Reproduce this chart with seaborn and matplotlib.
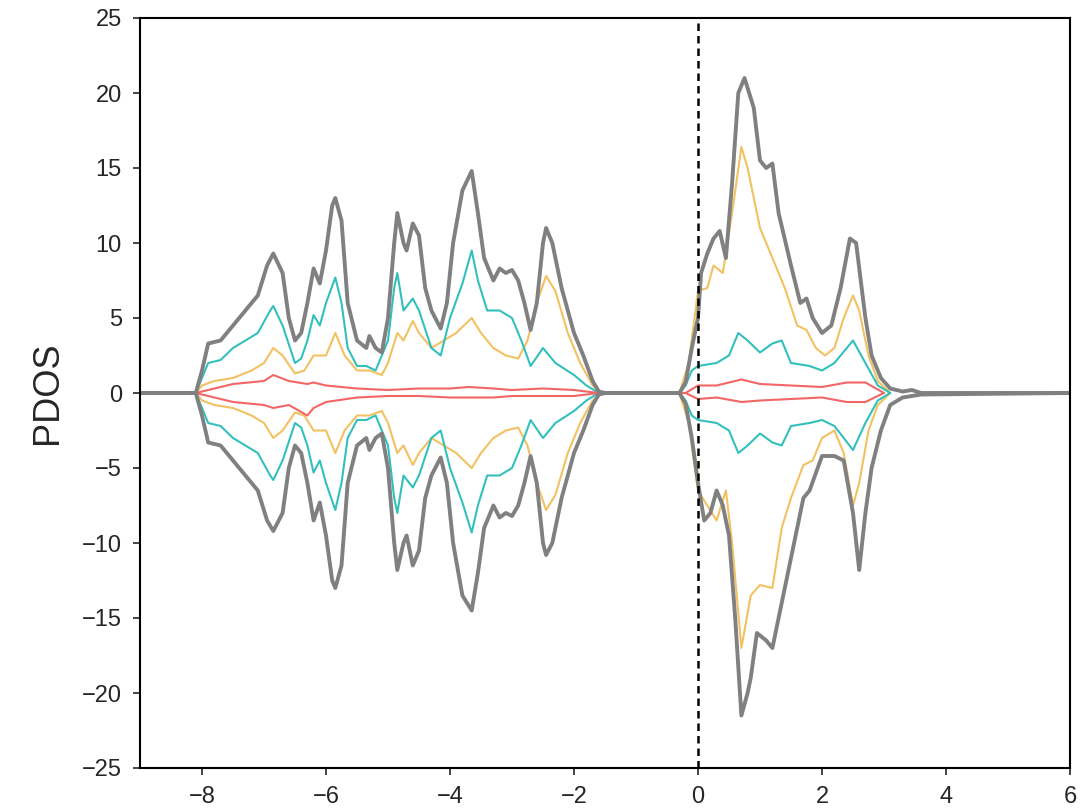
import matplotlib
matplotlib.use("Agg")
import matplotlib.pyplot as plt
import seaborn as sns
import numpy as np

sns.set_style("ticks")
plt.rcParams['font.family'] = ['Liberation Sans', 'DejaVu Sans']

# ---- data (energy, PDOS) ----
gray_up_x = [-9,-8.1,-8.0,-7.9,-7.7,-7.5,-7.3,-7.1,-6.95,-6.85,-6.7,-6.6,-6.5,-6.4,-6.3,-6.2,-6.1,-6.0,-5.9,-5.85,-5.75,-5.65,-5.5,-5.35,-5.3,-5.2,-5.1,-5.0,-4.9,-4.85,-4.75,-4.7,-4.6,-4.5,-4.4,-4.3,-4.15,-4.05,-3.95,-3.8,-3.65,-3.55,-3.45,-3.3,-3.2,-3.1,-3.0,-2.9,-2.8,-2.7,-2.6,-2.5,-2.45,-2.35,-2.2,-2.0,-1.85,-1.7,-1.6,-1.5,
             -0.3,-0.2,-0.1,0.0,0.05,0.15,0.25,0.35,0.45,0.55,0.65,0.75,0.9,1.0,1.1,1.2,1.3,1.5,1.65,1.75,1.85,2.0,2.15,2.3,2.45,2.55,2.7,2.8,2.95,3.1,3.3,3.45,3.6,6]
gray_up_y = [0,0,1.5,3.3,3.5,4.5,5.5,6.5,8.5,9.3,8,5,3.5,4,6,8.3,7.3,9.5,12.5,13,11.5,6,3.5,3.0,3.8,3,2.7,5,10,12,10,9.5,11.3,10.5,7,5.5,4.3,6,10,13.5,14.8,12,9,7.5,8.3,8.0,8.2,7.5,6,4.2,6,10,11,10,7,4,2.5,0.8,0.1,0,
             0,0.7,3,5,8,9.3,10.3,10.8,9,14,20,21,19,15.5,15,15.3,12,8.5,6,6.3,5,4,4.5,7,10.3,10,5,2.5,1,0.3,0.1,0.2,0,0]
gray_dn_x = [-9,-8.1,-8.0,-7.9,-7.7,-7.5,-7.3,-7.1,-6.95,-6.85,-6.7,-6.6,-6.5,-6.4,-6.3,-6.2,-6.1,-6.0,-5.9,-5.85,-5.75,-5.65,-5.5,-5.35,-5.3,-5.2,-5.1,-5.0,-4.9,-4.85,-4.75,-4.7,-4.6,-4.5,-4.4,-4.3,-4.15,-4.05,-3.95,-3.8,-3.65,-3.55,-3.45,-3.3,-3.2,-3.1,-3.0,-2.9,-2.8,-2.7,-2.6,-2.5,-2.45,-2.35,-2.2,-2.0,-1.85,-1.7,-1.6,-1.5,
             -0.3,-0.2,-0.1,0.0,0.1,0.2,0.3,0.4,0.5,0.6,0.7,0.8,0.85,0.95,1.1,1.2,1.3,1.5,1.7,1.8,2.0,2.2,2.35,2.5,2.6,2.7,2.8,2.95,3.1,3.3,3.6,6]
gray_dn_y = [0,0,-1.5,-3.3,-3.5,-4.5,-5.5,-6.5,-8.5,-9.2,-8,-5,-3.5,-4,-6,-8.5,-7.3,-9.5,-12.5,-13,-11.5,-6,-3.5,-3.0,-3.8,-3,-2.7,-5,-10,-11.8,-10,-9.5,-11.5,-10.5,-7,-5.5,-4.3,-6,-10,-13.5,-14.5,-12,-9,-7.5,-8.3,-8.0,-8.2,-7.5,-6,-4.2,-6,-10,-10.8,-10,-7,-4,-2.5,-0.8,-0.1,0,
             0,-0.7,-3,-6,-8.5,-8,-6.5,-7.5,-9.5,-15,-21.5,-20,-19,-16,-16.5,-17,-15,-11,-7,-6.5,-4.2,-4.2,-4.5,-8,-11.8,-8,-5,-2.5,-0.8,-0.3,-0.1,0]

cyan_up_x = [-8.1,-8.0,-7.9,-7.7,-7.5,-7.3,-7.1,-6.9,-6.85,-6.7,-6.5,-6.4,-6.3,-6.2,-6.1,-6.0,-5.85,-5.75,-5.65,-5.5,-5.35,-5.2,-5.0,-4.9,-4.85,-4.75,-4.6,-4.5,-4.3,-4.15,-4.0,-3.8,-3.65,-3.55,-3.4,-3.2,-3.0,-2.85,-2.7,-2.5,-2.3,-2.0,-1.8,-1.6,
             -0.3,-0.2,-0.1,0.0,0.3,0.5,0.65,0.8,1.0,1.2,1.35,1.5,1.8,2.0,2.2,2.5,2.7,2.9,3.1]
cyan_up_y = [0,1.0,2,2.2,3,3.5,4,5.5,5.8,4.5,2,2.3,3.5,5.2,4.5,6,7.7,6,3,1.8,1.8,1.5,3.5,7,8,5.5,6.3,5.5,3,2.5,5,7.3,9.5,7.5,5.5,5.5,5,3.5,1.8,3,2,1.2,0.5,0,
             0,0.5,1.5,1.8,2,2.5,4,3.5,2.7,3.3,3.5,2,1.8,1.5,2,3.5,2,0.5,0]
cyan_dn_x = cyan_up_x
cyan_dn_y = [0,-1.0,-2,-2.2,-3,-3.5,-4,-5.5,-5.8,-4.5,-2,-2.3,-3.5,-5.3,-4.5,-6,-7.8,-6,-3,-1.8,-1.8,-1.5,-3.5,-7,-8,-5.5,-6.3,-5.5,-3,-2.5,-5,-7.3,-9.3,-7.5,-5.5,-5.5,-5,-3.5,-1.8,-3,-2,-1.2,-0.5,0,
             0,-0.5,-1.5,-1.8,-2,-2.5,-4,-3.5,-2.7,-3.3,-3.5,-2.2,-2,-1.8,-2.2,-3.8,-2,-0.5,0]

orange_up_x = [-8.1,-8.0,-7.8,-7.5,-7.2,-7.0,-6.85,-6.7,-6.5,-6.35,-6.2,-6.0,-5.85,-5.7,-5.5,-5.3,-5.1,-5.0,-4.85,-4.75,-4.6,-4.5,-4.3,-4.1,-3.9,-3.65,-3.5,-3.3,-3.1,-2.9,-2.75,-2.6,-2.45,-2.3,-2.1,-1.9,-1.7,-1.55,
               -0.3,-0.15,0.0,0.15,0.25,0.4,0.55,0.7,0.8,1.0,1.2,1.4,1.6,1.75,1.9,2.05,2.2,2.35,2.5,2.6,2.75,2.9,3.1]
orange_up_y = [0,0.5,0.8,1,1.5,2,3,2.5,1.3,1.5,2.5,2.5,4,2.5,1.5,1.5,1.2,2,4,3.5,4.8,4,3,3.5,4,5,4,3,2.5,2.3,3.5,6,7.8,6.8,4,2,0.5,0,
               0,2,6.8,7,8.5,8,12,16.4,15,11,9,7,4.5,4.2,3,2.5,3,5,6.5,5.5,2.5,0.8,0]
orange_dn_x = [-8.1,-8.0,-7.8,-7.5,-7.2,-7.0,-6.85,-6.7,-6.5,-6.35,-6.2,-6.0,-5.85,-5.7,-5.5,-5.3,-5.1,-5.0,-4.85,-4.75,-4.6,-4.5,-4.3,-4.1,-3.9,-3.65,-3.5,-3.3,-3.1,-2.9,-2.75,-2.6,-2.45,-2.3,-2.1,-1.9,-1.7,-1.55,
               -0.3,-0.15,0.0,0.15,0.3,0.45,0.55,0.7,0.85,1.0,1.2,1.35,1.5,1.7,1.85,2.0,2.2,2.35,2.5,2.6,2.75,2.9,3.1]
orange_dn_y = [0,-0.5,-0.8,-1,-1.5,-2,-3,-2.5,-1.3,-1.5,-2.5,-2.5,-4,-2.5,-1.5,-1.5,-1.2,-2,-4,-3.5,-4.8,-4,-3,-3.5,-4,-5,-4,-3,-2.5,-2.3,-3.5,-6,-7.8,-6.8,-4,-2,-0.5,0,
               0,-2,-6.5,-7.5,-8.5,-6.5,-10,-17,-13.5,-12.8,-13,-9,-7,-4.8,-4.5,-3,-2.5,-4,-7.5,-6,-2.5,-0.8,0]

red_up_x = [-8.1,-7.8,-7.5,-7.0,-6.85,-6.6,-6.3,-6.2,-6.0,-5.5,-5.0,-4.5,-4.0,-3.7,-3.3,-3.0,-2.5,-2.0,-1.6,
            -0.2,0.0,0.3,0.7,1.0,1.5,2.0,2.4,2.7,3.0]
red_up_y = [0,0.3,0.6,0.8,1.2,0.8,0.6,0.7,0.5,0.3,0.2,0.3,0.3,0.4,0.3,0.2,0.3,0.2,0,
            0,0.5,0.5,0.9,0.6,0.5,0.4,0.7,0.7,0]
red_dn_x = red_up_x
red_dn_y = [0,-0.3,-0.6,-0.8,-1.0,-0.8,-1.5,-1.0,-0.6,-0.3,-0.2,-0.2,-0.3,-0.3,-0.3,-0.2,-0.2,-0.2,0,
            0,-0.4,-0.3,-0.6,-0.5,-0.4,-0.3,-0.6,-0.6,0]

fig = plt.figure(figsize=(10.8, 8.1), dpi=100)
ax = fig.add_axes([140/1080, 42/810, 930/1080, 750/810])

series = [
    (orange_up_x, orange_up_y, orange_dn_x, orange_dn_y, "#f2c162", 1.5),
    (cyan_up_x, cyan_up_y, cyan_dn_x, cyan_dn_y, "#33c0bd", 1.5),
    (red_up_x, red_up_y, red_dn_x, red_dn_y, "#f26666", 1.5),
    (gray_up_x, gray_up_y, gray_dn_x, gray_dn_y, "#808080", 2.8),
]
for ux, uy, dx, dy, c, lw in series:
    sns.lineplot(x=ux, y=uy, color=c, lw=lw, ax=ax, sort=False, estimator=None)
    sns.lineplot(x=dx, y=dy, color=c, lw=lw, ax=ax, sort=False, estimator=None)

ax.axvline(0, color="black", ls="--", lw=1.8, dashes=(3, 2))
ax.set_xlim(-9, 6)
ax.set_ylim(-25, 25)
ax.set_xticks(np.arange(-8, 7, 2))
ax.set_yticks(np.arange(-25, 26, 5))
ax.tick_params(labelsize=17, length=5, width=1.2, direction="out", pad=8)
for s in ax.spines.values():
    s.set_linewidth(1.5)
    s.set_color("black")
ax.set_ylabel("PDOS", fontsize=26, labelpad=12)
fig.savefig("out.png", dpi=100)
